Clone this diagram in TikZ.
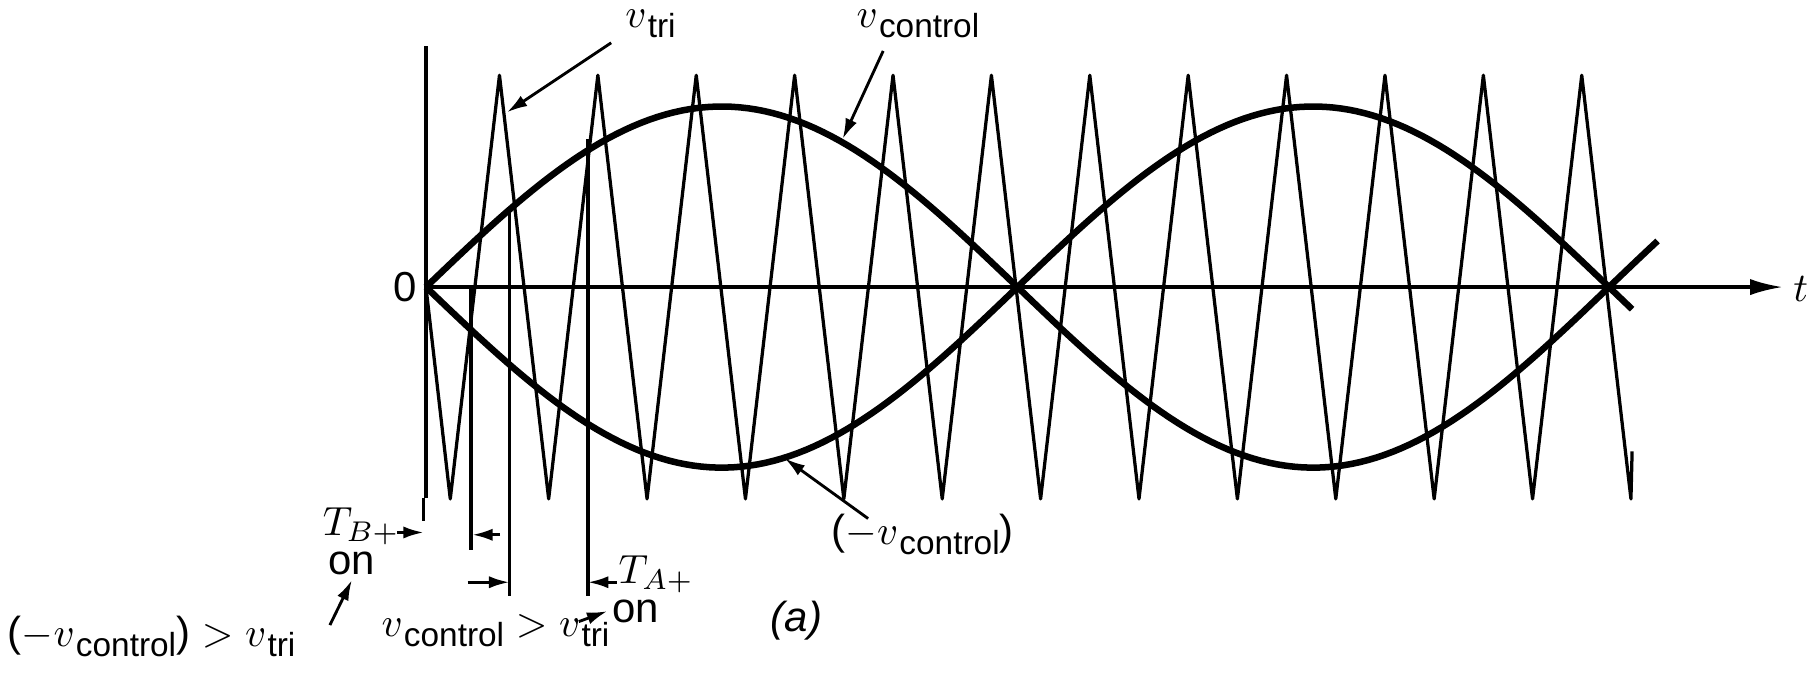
\documentclass[tikz,border=0pt]{standalone}
\usepackage{fontspec}
\setmainfont{Liberation Sans}
\usetikzlibrary{arrows.meta}
\newcommand{\vs}[1]{$v$\kern0.3pt\raisebox{-0.45ex}{\fontsize{8.2}{8}\selectfont #1}}
\begin{document}
\begin{tikzpicture}[x=0.01cm,y=-0.01cm,
  thin line/.style={line width=0.8pt},
  thick curve/.style={line width=1.6pt},
  arr/.style={line width=0.7pt,-{Latex[length=5pt,width=3pt]}},
  lbl/.style={font=\fontsize{10.3}{11}\selectfont,inner sep=1pt}]
\useasboundingbox (0,0) rectangle (1568,581);
% axes
\coordinate (O) at (368,248);
\coordinate (tend) at (1540,248);
\coordinate (ytop) at (368,40);
\coordinate (ybot) at (368,430);
\draw[thin line,-{Latex[length=8pt,width=4pt]}] (O) -- (tend);
\draw[line width=1pt] (ytop) -- (ybot);
\node[lbl,anchor=west] (t) at (1545,250) {$t$};
\node[lbl] (zero) at (350,248) {0};
% triangle
\draw[thin line,line join=round] (368,248) -- (389,431)
  \foreach \k in {0,...,11} { -- ({431.5+85*\k},65) -- ({474+85*\k},431) }
  -- (1410,390);
% control signals
\draw[thick curve] plot[domain=368:1432,samples=150] (\x,{248-156*sin((\x-368)/1022*360)});
\draw[thick curve] plot[domain=368:1410,samples=150] (\x,{248+156*sin((\x-368)/1022*360)});
% vertical markers
\coordinate (m2a) at (407,250); \coordinate (m2b) at (407,475);
\coordinate (m3a) at (440,180); \coordinate (m3b) at (440,515);
\coordinate (m4a) at (508,120); \coordinate (m4b) at (508,515);
\coordinate (m1a) at (366,430); \coordinate (m1b) at (366,450);
\draw[thin line] (m2a) -- (m2b);
\draw[thin line] (m3a) -- (m3b);
\draw[thin line] (m4a) -- (m4b);
\draw[thin line] (m1a) -- (m1b);
% dimension arrows
\coordinate (a1) at (343,460); \coordinate (a1e) at (366,460);
\coordinate (a2) at (432,462); \coordinate (a2e) at (408,462);
\coordinate (a3) at (404,503); \coordinate (a3e) at (440,503);
\coordinate (a4) at (533,503); \coordinate (a4e) at (508,503);
\draw[arr] (a1) -- (a1e);
\draw[arr] (a2) -- (a2e);
\draw[arr] (a3) -- (a3e);
\draw[arr] (a4) -- (a4e);
% labels
\node[lbl] (TB) at (312,455) {$T_{B+}$};
\node[lbl] (TBon) at (304,487) {on};
\node[lbl] (TA) at (567,496) {$T_{A+}$};
\node[lbl] (TAon) at (549,528) {on};
\node[lbl] (c1) at (131,550) {($-$\vs{control}) $>$ \vs{tri}};
\node[lbl] (c2) at (428,545) {\vs{control} $>$ \vs{tri}};
\draw[arr] (285,540) -- (TBon.south);
\draw[arr] (500,537) -- (TAon.west);
\node[lbl] (a) at (688,536) {\itshape (a)};
\node[lbl] (vtri) at (562,21) {\vs{tri}};
\node[lbl] (vc) at (793,21) {\vs{control}};
\node[lbl] (mvc) at (797,462) {($-$\vs{control})};
\coordinate (p1) at (438,97);
\coordinate (p2) at (728,120);
\coordinate (p3) at (678,396);
\draw[arr] (528,37) -- (p1);
\draw[arr] (763,44) -- (p2);
\draw[arr] (750,448) -- (p3);
\end{tikzpicture}
\end{document}
